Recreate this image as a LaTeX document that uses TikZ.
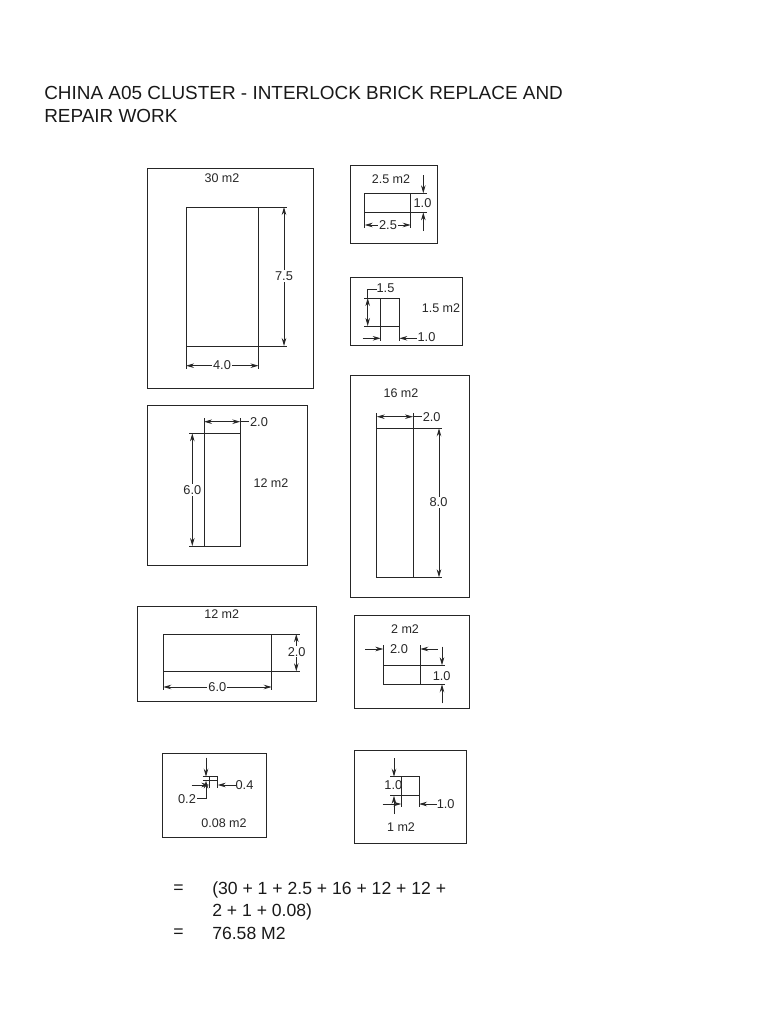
\documentclass[tikz,border=0pt]{standalone}
\usepackage{fontspec}
\setmainfont{Liberation Sans}
\usetikzlibrary{arrows.meta}
\tikzset{
  framebox/.style={draw=black!85,line width=0.75pt},
  partbox/.style={draw=black!85,line width=0.75pt},
  extline/.style={draw=black!85,line width=0.65pt},
  dimline/.style={draw=black!85,line width=0.65pt,>={Stealth[length=6pt,width=3.4pt]}},
  areatxt/.style={font=\fontsize{9.4}{11}\selectfont,text=black!85,inner sep=0.5pt},
  dimtxt/.style={font=\fontsize{9.6}{11}\selectfont,text=black!85,inner sep=0.8pt},
  gaptxt/.style={dimtxt,fill=white},
  headtxt/.style={font=\fontsize{14.2}{16}\selectfont,text=black!90,inner sep=0pt,anchor=west},
  sumtxt/.style={font=\fontsize{13.2}{16}\selectfont,text=black!90,inner sep=0pt,anchor=west}
}
\begin{document}
\begin{tikzpicture}[x=0.75pt,y=-0.75pt]
    \useasboundingbox (0,0) rectangle (768,1024);
    \node[headtxt] (title1) at (44,92.5) {CHINA A05 CLUSTER - INTERLOCK BRICK REPLACE AND};
    \node[headtxt] (title2) at (44,115.5) {REPAIR WORK};
    % 30 m2
    \draw[framebox] (147,168) rectangle (313.5,388);
    \draw[partbox] (186,207) rectangle (258.5,346);
    \draw[extline] (258.5,207)--(286.7,207);
    \draw[extline] (258.5,346)--(286.7,346);
    \draw[extline] (186,346)--(186,369);
    \draw[extline] (258.5,346)--(258.5,369);
    \draw[dimline,<->] (284,207)--(284,346);
    \draw[dimline,<->] (186,365.7)--(258.5,365.7);
    \node[gaptxt] (d75) at (284,276) {7.5};
    \node[gaptxt] (d40) at (222,365.5) {4.0};
    \node[areatxt] (a30) at (222,178) {30 m2};
    % 2.5 m2
    \draw[framebox] (350.7,165.7) rectangle (437.7,243.3);
    \draw[partbox] (364.7,193.3) rectangle (410.7,212.3);
    \draw[extline] (410.7,193.3)--(426.7,193.3);
    \draw[extline] (410.7,212.3)--(426.7,212.3);
    \draw[extline] (364.7,212.3)--(364.7,228);
    \draw[extline] (410.7,212.3)--(410.7,228);
    \draw[dimline,->] (423.3,175)--(423.3,193.3);
    \draw[dimline,->] (423.3,231)--(423.3,212.3);
    \draw[dimline,<->] (364.7,225)--(410.7,225);
    \node[gaptxt] (d25) at (388,225) {2.5};
    \node[dimtxt] (d10a) at (422.5,203) {1.0};
    \node[areatxt] (a25) at (391,179) {2.5 m2};
    % 1.5 m2
    \draw[framebox] (350.7,277.3) rectangle (462.3,345.7);
    \draw[partbox] (380.7,298) rectangle (399.3,326);
    \draw[extline] (364,298)--(380.7,298);
    \draw[extline] (364,326)--(380.7,326);
    \draw[extline] (380.7,326)--(380.7,341);
    \draw[extline] (399.3,326)--(399.3,341);
    \draw[dimline,<->] (367.7,298)--(367.7,326);
    \draw[extline] (367.7,298)--(367.7,289)--(376.7,289);
    \draw[dimline,->] (362.7,338.3)--(380.7,338.3);
    \draw[dimline,->] (416.7,338.3)--(399.3,338.3);
    \node[dimtxt] (d15) at (385.5,288) {1.5};
    \node[dimtxt] (d10b) at (426.5,337.5) {1.0};
    \node[areatxt] (a15) at (441,308) {1.5 m2};
    % 12 m2 upright
    \draw[framebox] (147.3,405.7) rectangle (307.7,565.7);
    \draw[partbox] (204,433.3) rectangle (240.3,546);
    \draw[extline] (189.3,433.3)--(204,433.3);
    \draw[extline] (189.3,546)--(204,546);
    \draw[extline] (204,433.3)--(204,418.3);
    \draw[extline] (240.3,433.3)--(240.3,418.3);
    \draw[dimline,<->] (204,421.7)--(240.3,421.7);
    \draw[extline] (240.3,421.7)--(249.3,421.7);
    \draw[dimline,<->] (192.3,433.3)--(192.3,546);
    \node[dimtxt] (d20a) at (259,422) {2.0};
    \node[gaptxt] (d60a) at (192.3,490) {6.0};
    \node[areatxt] (a12a) at (271,482.7) {12 m2};
    % 16 m2
    \draw[framebox] (350.7,375.7) rectangle (469,597.7);
    \draw[partbox] (376.7,428.3) rectangle (413,577.3);
    \draw[extline] (413,428.3)--(442.3,428.3);
    \draw[extline] (413,577.3)--(442.3,577.3);
    \draw[extline] (376.7,428.3)--(376.7,412.7);
    \draw[extline] (413,428.3)--(413,412.7);
    \draw[dimline,<->] (376.7,416.7)--(413,416.7);
    \draw[extline] (413,416.7)--(421.7,416.7);
    \draw[dimline,<->] (439,428.3)--(439,577.3);
    \node[dimtxt] (d20b) at (431.7,416.7) {2.0};
    \node[gaptxt] (d80) at (438.5,502.3) {8.0};
    \node[areatxt] (a16) at (401,392.7) {16 m2};
    % 12 m2 flat
    \draw[framebox] (137.3,606) rectangle (316,701);
    \draw[partbox] (163.3,634) rectangle (271.7,671.3);
    \draw[extline] (271.7,634)--(300,634);
    \draw[extline] (271.7,671.3)--(300,671.3);
    \draw[extline] (163.3,671.3)--(163.3,690);
    \draw[extline] (271.7,671.3)--(271.7,690);
    \draw[dimline,<->] (163.3,687)--(271.7,687);
    \draw[dimline,<->] (296.3,634)--(296.3,671.3);
    \node[gaptxt] (d60b) at (217.3,687) {6.0};
    \node[gaptxt] (d20c) at (296.7,651.7) {2.0};
    \node[areatxt] (a12b) at (221.7,614.3) {12 m2};
    % 2 m2
    \draw[framebox] (354,615) rectangle (469,708.3);
    \draw[partbox] (383.3,665.3) rectangle (420.3,684.3);
    \draw[extline] (420.3,665.3)--(445,665.3);
    \draw[extline] (420.3,684.3)--(445,684.3);
    \draw[extline] (383.3,665.3)--(383.3,645);
    \draw[extline] (420.3,665.3)--(420.3,645);
    \draw[dimline,->] (365,649)--(383.3,649);
    \draw[dimline,->] (437.7,649)--(420.3,649);
    \draw[dimline,->] (442,646.7)--(442,665.3);
    \draw[dimline,->] (442,703.3)--(442,684.3);
    \node[dimtxt] (d20d) at (399,649) {2.0};
    \node[dimtxt] (d10c) at (441.7,675.7) {1.0};
    \node[areatxt] (a2) at (405,629.3) {2 m2};
    % 0.08 m2
    \draw[framebox] (162.3,753.3) rectangle (266.7,837.3);
    \draw[partbox] (209.3,776.7) rectangle (217.7,780.6);
    \draw[extline] (202.7,776.7)--(209.3,776.7);
    \draw[extline] (202.7,780.6)--(209.3,780.6);
    \draw[extline] (209.3,780.6)--(209.3,788);
    \draw[extline] (217.7,780.6)--(217.7,788);
    \draw[dimline,->] (206,757.7)--(206,776.7);
    \draw[dimline,->] (206,798.5)--(206,780.6);
    \draw[extline] (206,798.5)--(197.3,798.5);
    \draw[dimline,->] (191.7,785)--(209.3,785);
    \draw[dimline,->] (236,785)--(217.7,785);
    \node[dimtxt] (d02) at (187,799) {0.2};
    \node[dimtxt] (d04) at (244.5,785.5) {0.4};
    \node[areatxt] (a008) at (224,822.7) {0.08 m2};
    % 1 m2
    \draw[framebox] (354,750) rectangle (466,843.3);
    \draw[partbox] (401.3,776.7) rectangle (419,795.7);
    \draw[extline] (390,776.7)--(401.3,776.7);
    \draw[extline] (390,795.7)--(401.3,795.7);
    \draw[extline] (401.3,795.7)--(401.3,807.3);
    \draw[extline] (419,795.7)--(419,807.3);
    \draw[dimline,->] (394,758.3)--(394,776.7);
    \draw[dimline,->] (394,814)--(394,795.7);
    \draw[dimline,->] (382.7,804)--(401.3,804);
    \draw[dimline,->] (436.7,804)--(419,804);
    \node[dimtxt] (d10d) at (393.3,785) {1.0};
    \node[dimtxt] (d10e) at (445.7,804) {1.0};
    \node[areatxt] (a1) at (401,827.3) {1 m2};
    % sum
    \node[sumtxt] (eq1) at (173,889.5) {=};
    \node[sumtxt] (sum1) at (212,889.5) {(30 + 1 + 2.5 + 16 + 12 + 12 +};
    \node[sumtxt] (sum2) at (212,911.5) {2 + 1 + 0.08)};
    \node[sumtxt] (eq2) at (173,933.5) {=};
    \node[sumtxt] (total) at (212,933.5) {76.58 M2};
\end{tikzpicture}
\end{document}
